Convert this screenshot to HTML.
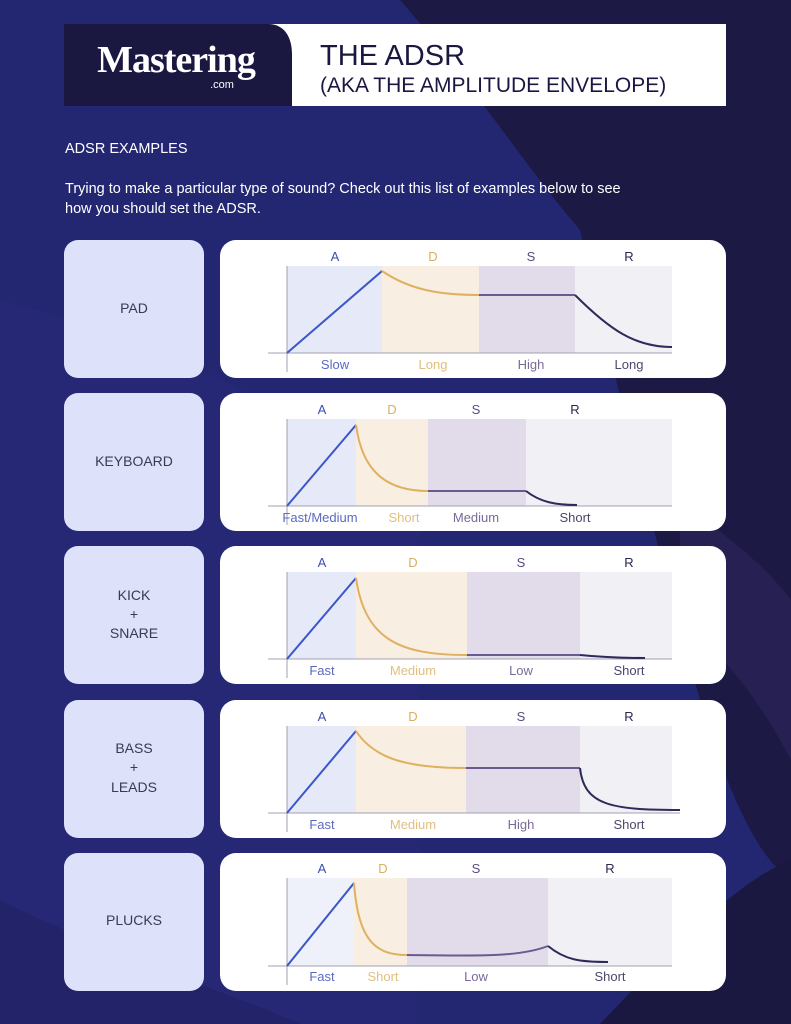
<!DOCTYPE html>
<html><head><meta charset="utf-8"><style>
html,body{margin:0;padding:0;width:791px;height:1024px;overflow:hidden;background:#1d1a48;}
svg{display:block}
text{font-family:"Liberation Sans",sans-serif;}
</style></head><body>
<svg width="791" height="1024" viewBox="0 0 791 1024" xmlns="http://www.w3.org/2000/svg">
<rect width="791" height="1024" fill="#1c1945"/>
<path d="M0 0 H400 C470 80 520 160 580 230 C620 400 660 560 700 700 C730 800 760 860 791 880 V1024 H0 Z" fill="#232772"/>
<path d="M0 300 C150 340 300 400 420 520 L420 1024 H0 Z" fill="#2a2a78" opacity="0.5"/>
<path d="M600 1024 C680 940 740 880 791 860 V1024 Z" fill="#1a1740"/>
<path d="M0 900 C120 960 250 1000 300 1024 H0Z" fill="#222060" opacity="0.6"/>
<path d="M680 500 C730 540 760 560 791 600 V760 C760 700 720 650 680 620Z" fill="#3a2c6a" opacity="0.4"/>
<!-- header -->
<rect x="64" y="24" width="662" height="82" fill="#1a1740"/>
<path d="M292 24 H726 V106 H292 V54 C292 38 285 24 268 24 Z" fill="#ffffff"/>
<rect x="292" y="24" width="434" height="82" fill="#ffffff"/>
<text x="176" y="72" style="font-family:'Liberation Serif',serif;font-size:38px;font-weight:bold;letter-spacing:-1px" fill="#ffffff" text-anchor="middle">Mastering</text>
<text x="222" y="88" font-size="11" fill="#ffffff" text-anchor="middle">.com</text>
<text x="320" y="65" font-size="29" fill="#1a1740">THE ADSR</text>
<text x="320" y="92" font-size="21" fill="#1a1740">(AKA THE AMPLITUDE ENVELOPE)</text>
<text x="65" y="153" font-size="14.5" fill="#ffffff">ADSR EXAMPLES</text>
<text x="65" y="193" font-size="14.5" fill="#ffffff">Trying to make a particular type of sound? Check out this list of examples below to see</text>
<text x="65" y="213" font-size="14.5" fill="#ffffff">how you should set the ADSR.</text>

<!-- left cards -->
<g fill="#dde2fa">
<rect x="64" y="240" width="140" height="138" rx="14"/>
<rect x="64" y="393" width="140" height="138" rx="14"/>
<rect x="64" y="546" width="140" height="138" rx="14"/>
<rect x="64" y="700" width="140" height="138" rx="14"/>
<rect x="64" y="853" width="140" height="138" rx="14"/>
</g>
<g fill="#3a3a50" font-size="14" text-anchor="middle">
<text x="134" y="313">PAD</text>
<text x="134" y="466">KEYBOARD</text>
<text x="134" y="600">KICK</text><text x="134" y="619">+</text><text x="134" y="638">SNARE</text>
<text x="134" y="753">BASS</text><text x="134" y="772">+</text><text x="134" y="792">LEADS</text>
<text x="134" y="925">PLUCKS</text>
</g>
<!-- right cards -->
<g fill="#ffffff">
<rect x="220" y="240" width="506" height="138" rx="16"/>
<rect x="220" y="393" width="506" height="138" rx="16"/>
<rect x="220" y="546" width="506" height="138" rx="16"/>
<rect x="220" y="700" width="506" height="138" rx="16"/>
<rect x="220" y="853" width="506" height="138" rx="16"/>
</g>

<!-- PAD -->
<g>
<rect x="287" y="266" width="95" height="87" fill="#e6e9f8"/>
<rect x="382" y="266" width="97" height="87" fill="#f8efe2"/>
<rect x="479" y="266" width="96" height="87" fill="#e2dcea"/>
<rect x="575" y="266" width="97" height="87" fill="#f1f0f5"/>
<line x1="268" y1="353" x2="672" y2="353" stroke="#a0a0b0" stroke-width="1"/>
<line x1="287" y1="266" x2="287" y2="372" stroke="#a0a0b0" stroke-width="1"/>
<path d="M287 353 L382 271" stroke="#3a56c8" stroke-width="2" fill="none"/>
<path d="M382 271 C410 290 440 295 479 295" stroke="#e0b060" stroke-width="2" fill="none"/>
<path d="M479 295 H575" stroke="#6a5a90" stroke-width="2" fill="none"/>
<path d="M575 295 C610 330 635 347 672 347" stroke="#2e2a5a" stroke-width="2" fill="none"/>
<g font-size="13" text-anchor="middle">
<text x="335" y="261" fill="#3a4fb0">A</text><text x="433" y="261" fill="#d9b060">D</text><text x="531" y="261" fill="#5a4a80">S</text><text x="629" y="261" fill="#2a2850">R</text>
<text x="335" y="369" fill="#5a6ac0">Slow</text><text x="433" y="369" fill="#e0c080">Long</text><text x="531" y="369" fill="#7a6a98">High</text><text x="629" y="369" fill="#4a4868">Long</text>
</g></g>

<!-- KEYBOARD -->
<g>
<rect x="287" y="419" width="69" height="87" fill="#e6e9f8"/>
<rect x="356" y="419" width="72" height="87" fill="#f8efe2"/>
<rect x="428" y="419" width="98" height="87" fill="#e2dcea"/>
<rect x="526" y="419" width="146" height="87" fill="#f1f0f5"/>
<line x1="268" y1="506" x2="672" y2="506" stroke="#a0a0b0"/>
<line x1="287" y1="419" x2="287" y2="525" stroke="#a0a0b0"/>
<path d="M287 506 L356 425" stroke="#3a56c8" stroke-width="2" fill="none"/>
<path d="M356 425 C362 470 385 491 428 491" stroke="#e0b060" stroke-width="2" fill="none"/>
<path d="M428 491 H526" stroke="#6a5a90" stroke-width="2" fill="none"/>
<path d="M526 491 C540 502 555 505 577 505" stroke="#2e2a5a" stroke-width="2" fill="none"/>
<g font-size="13" text-anchor="middle">
<text x="322" y="414" fill="#3a4fb0">A</text><text x="392" y="414" fill="#d9b060">D</text><text x="476" y="414" fill="#5a4a80">S</text><text x="575" y="414" fill="#2a2850">R</text>
<text x="320" y="522" fill="#5a6ac0">Fast/Medium</text><text x="404" y="522" fill="#e0c080">Short</text><text x="476" y="522" fill="#7a6a98">Medium</text><text x="575" y="522" fill="#4a4868">Short</text>
</g></g>

<!-- KICK -->
<g>
<rect x="287" y="572" width="69" height="87" fill="#e6e9f8"/>
<rect x="356" y="572" width="111" height="87" fill="#f8efe2"/>
<rect x="467" y="572" width="113" height="87" fill="#e2dcea"/>
<rect x="580" y="572" width="92" height="87" fill="#f1f0f5"/>
<line x1="268" y1="659" x2="672" y2="659" stroke="#a0a0b0"/>
<line x1="287" y1="572" x2="287" y2="678" stroke="#a0a0b0"/>
<path d="M287 659 L356 578" stroke="#3a56c8" stroke-width="2" fill="none"/>
<path d="M356 578 C365 640 400 655 467 655" stroke="#e0b060" stroke-width="2" fill="none"/>
<path d="M467 655 H580" stroke="#6a5a90" stroke-width="2" fill="none"/>
<path d="M580 655 C600 657 620 658 645 658" stroke="#2e2a5a" stroke-width="2" fill="none"/>
<g font-size="13" text-anchor="middle">
<text x="322" y="567" fill="#3a4fb0">A</text><text x="413" y="567" fill="#d9b060">D</text><text x="521" y="567" fill="#5a4a80">S</text><text x="629" y="567" fill="#2a2850">R</text>
<text x="322" y="675" fill="#5a6ac0">Fast</text><text x="413" y="675" fill="#e0c080">Medium</text><text x="521" y="675" fill="#7a6a98">Low</text><text x="629" y="675" fill="#4a4868">Short</text>
</g></g>

<!-- BASS -->
<g>
<rect x="287" y="726" width="69" height="87" fill="#e6e9f8"/>
<rect x="356" y="726" width="110" height="87" fill="#f8efe2"/>
<rect x="466" y="726" width="114" height="87" fill="#e2dcea"/>
<rect x="580" y="726" width="92" height="87" fill="#f1f0f5"/>
<line x1="268" y1="813" x2="680" y2="813" stroke="#a0a0b0"/>
<line x1="287" y1="726" x2="287" y2="832" stroke="#a0a0b0"/>
<path d="M287 813 L356 731" stroke="#3a56c8" stroke-width="2" fill="none"/>
<path d="M356 731 C375 760 410 768 466 768" stroke="#e0b060" stroke-width="2" fill="none"/>
<path d="M466 768 H580" stroke="#6a5a90" stroke-width="2" fill="none"/>
<path d="M580 768 C584 805 610 810 680 810" stroke="#2e2a5a" stroke-width="2" fill="none"/>
<g font-size="13" text-anchor="middle">
<text x="322" y="721" fill="#3a4fb0">A</text><text x="413" y="721" fill="#d9b060">D</text><text x="521" y="721" fill="#5a4a80">S</text><text x="629" y="721" fill="#2a2850">R</text>
<text x="322" y="829" fill="#5a6ac0">Fast</text><text x="413" y="829" fill="#e0c080">Medium</text><text x="521" y="829" fill="#7a6a98">High</text><text x="629" y="829" fill="#4a4868">Short</text>
</g></g>

<!-- PLUCKS -->
<g>
<rect x="287" y="878" width="67" height="88" fill="#eef0fa"/>
<rect x="354" y="878" width="53" height="88" fill="#f8efe2"/>
<rect x="407" y="878" width="141" height="88" fill="#e2dcea"/>
<rect x="548" y="878" width="124" height="88" fill="#f1f0f5"/>
<line x1="268" y1="966" x2="672" y2="966" stroke="#a0a0b0"/>
<line x1="287" y1="878" x2="287" y2="985" stroke="#a0a0b0"/>
<path d="M287 966 L354 883" stroke="#3a56c8" stroke-width="2" fill="none"/>
<path d="M354 883 C358 940 375 955 407 955" stroke="#e0b060" stroke-width="2" fill="none"/>
<path d="M407 955 C480 956 520 957 548 946" stroke="#6a5a90" stroke-width="2" fill="none"/>
<path d="M548 946 C565 960 580 962 608 962" stroke="#2e2a5a" stroke-width="2" fill="none"/>
<g font-size="13" text-anchor="middle">
<text x="322" y="873" fill="#3a4fb0">A</text><text x="383" y="873" fill="#d9b060">D</text><text x="476" y="873" fill="#5a4a80">S</text><text x="610" y="873" fill="#2a2850">R</text>
<text x="322" y="981" fill="#5a6ac0">Fast</text><text x="383" y="981" fill="#e0c080">Short</text><text x="476" y="981" fill="#7a6a98">Low</text><text x="610" y="981" fill="#4a4868">Short</text>
</g></g>
</svg>
</body></html>
